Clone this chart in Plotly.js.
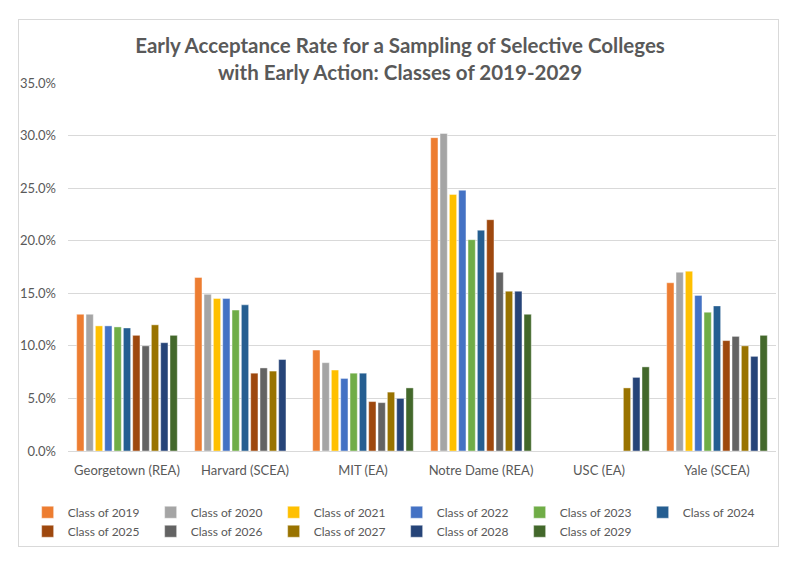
<!DOCTYPE html>
<html>
<head>
<meta charset="utf-8">
<script src="https://cdn.plot.ly/plotly-3.0.1.min.js"></script>
<style>
html,body{margin:0;padding:0;background:#fff;}
#wrap{position:relative;width:800px;height:573px;}
#chart{width:800px;height:573px;}
#frame{position:absolute;left:18px;top:19px;width:759px;height:526px;border:1px solid #d9d9d9;pointer-events:none;}
</style>
</head>
<body>
<div id="wrap"><div id="chart"></div><div id="frame"></div></div>
<script>
const colleges = ["Georgetown (REA)", "Harvard (SCEA)", "MIT (EA)", "Notre Dame (REA)", "USC (EA)", "Yale (SCEA)"];
const seriesNames = ["Class of 2019","Class of 2020","Class of 2021","Class of 2022","Class of 2023","Class of 2024","Class of 2025","Class of 2026","Class of 2027","Class of 2028","Class of 2029"];
const seriesColors = ["#ED7D31","#A5A5A5","#FFC000","#4472C4","#70AD47","#255E91","#9E480E","#636363","#997300","#264478","#43682B"];
// values per class (fractions), order of colleges
const class2019 = [0.130, 0.165, 0.096, 0.298, null, 0.160];
const class2020 = [0.130, 0.149, 0.084, 0.302, null, 0.170];
const class2021 = [0.119, 0.145, 0.077, 0.244, null, 0.171];
const class2022 = [0.119, 0.145, 0.069, 0.248, null, 0.148];
const class2023 = [0.118, 0.134, 0.074, 0.201, null, 0.132];
const class2024 = [0.117, 0.139, 0.074, 0.210, null, 0.138];
const class2025 = [0.110, 0.074, 0.047, 0.220, null, 0.105];
const class2026 = [0.100, 0.079, 0.046, 0.170, null, 0.109];
const class2027 = [0.120, 0.076, 0.056, 0.152, 0.060, 0.100];
const class2028 = [0.103, 0.087, 0.050, 0.152, 0.070, 0.090];
const class2029 = [0.110, null, 0.060, 0.130, 0.080, 0.110];
const allSeries = [class2019,class2020,class2021,class2022,class2023,class2024,class2025,class2026,class2027,class2028,class2029];

const FONT = "Lato, 'Open Sans', sans-serif";
const GREY = "#595959";

const traces = allSeries.map((vals, i) => ({
  type: "bar",
  name: seriesNames[i],
  x: colleges,
  y: vals,
  marker: {color: seriesColors[i], line: {color: "rgba(255,255,255,0.7)", width: 0.6}},
  hoverinfo: "x+y+name"
}));

const layout = {
  width: 800, height: 573,
  paper_bgcolor: "#fff", plot_bgcolor: "#fff",
  margin: {l: 68, r: 24, t: 83, b: 122},
  barmode: "group",
  bargap: 0.13,
  bargroupgap: 0.22,
  font: {family: FONT, color: GREY, size: 12},
  title: {
    text: "<b>Early Acceptance Rate for a Sampling of Selective Colleges<br>with Early Action: Classes of 2019-2029</b>",
    font: {family: FONT, size: 20.5, color: GREY},
    x: 0.5, xanchor: "center", y: 0.907, yanchor: "middle", yref: "container"
  },
  xaxis: {
    type: "category",
    showgrid: false,
    showline: true, linecolor: "#d9d9d9", linewidth: 1,
    ticks: "",
    ticklabelstandoff: 7,
    tickfont: {family: FONT, size: 13, color: GREY}
  },
  yaxis: {
    range: [0, 0.35],
    dtick: 0.05,
    tickformat: ".1%",
    showgrid: true, gridcolor: "#d9d9d9", gridwidth: 1,
    zeroline: false,
    showline: false,
    ticks: "",
    ticklabelstandoff: 11,
    tickfont: {family: FONT, size: 13, color: GREY}
  },
  showlegend: true,
  legend: {
    orientation: "h",
    x: -0.057, xanchor: "left",
    y: -0.127, yanchor: "top",
    entrywidth: 78, entrywidthmode: "pixels",
    itemwidth: 30,
    tracegroupgap: 0,
    font: {family: FONT, size: 12, color: GREY},
    traceorder: "normal"
  }
};

Plotly.newPlot("chart", traces, layout, {displayModeBar: false, staticPlot: true});
</script>
</body>
</html>
